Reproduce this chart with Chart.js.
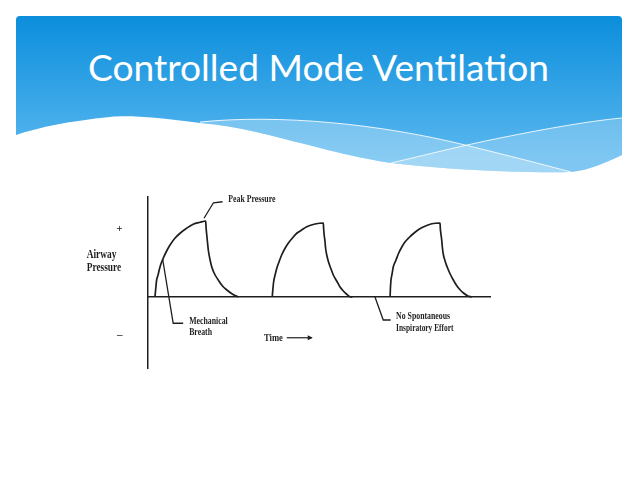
<!DOCTYPE html>
<html>
<head>
<meta charset="utf-8">
<title>Controlled Mode Ventilation</title>
<script src="https://cdn.jsdelivr.net/npm/chart.js@4.4.1/dist/chart.umd.min.js"></script>
<style>
  html, body { margin: 0; padding: 0; background: #fff; }
  #slide { position: relative; width: 638px; height: 479px; overflow: hidden; }
  #header { position: absolute; left: 0; top: 0; }
  #chart { position: absolute; left: 0; top: 0; }
</style>
</head>
<body>
<div id="slide">
  <svg id="header" width="638" height="180" viewBox="0 0 638 180">
    <defs>
      <linearGradient id="sky" x1="0" y1="16" x2="0" y2="160" gradientUnits="userSpaceOnUse">
        <stop offset="0" stop-color="#0b8edc"/>
        <stop offset="1" stop-color="#5bb8ef"/>
      </linearGradient>
    </defs>
    <!-- blue banner with the wavy lower edge -->
    <path d="M16,135 L16,20 Q16,16 20,16 L618,16 Q622,16 622,20 L622,155
             C605,163 590,170 571,172 C520,173 450,170 391,163
             C360,158 340,153 320,148 C270,136 240,126 200,123
             C160,118 130,115 110,117 C70,121 40,127 16,135 Z" fill="url(#sky)"/>
    <path d="M200,122 C280,114 380,124 465,145 C510,156 545,165 571,172
             C520,173 450,170 391,163 C360,158 340,153 320,148
             C270,136 240,126 200,123 Z" fill="#ffffff" fill-opacity="0.28"/>
    <path d="M391,163 C430,154 460,146 500,138 C550,128 590,121 622,118 L622,155
             C605,163 590,170 571,172 C520,173 450,170 391,163 Z" fill="#ffffff" fill-opacity="0.22"/>
    <path d="M200,122 C280,114 380,124 465,145 C510,156 545,165 571,172" fill="none" stroke="#ffffff" stroke-opacity="0.85" stroke-width="1"/>
    <path d="M391,163 C430,154 460,146 500,138 C550,128 590,121 622,118" fill="none" stroke="#ffffff" stroke-opacity="0.85" stroke-width="1"/>
    <text x="88" y="81" fill="#ffffff" font-family="Lato, 'Open Sans', sans-serif" font-size="37"
          textLength="461" lengthAdjust="spacingAndGlyphs">Controlled Mode Ventilation</text>
  </svg>
  <canvas id="chart" width="638" height="479"></canvas>
</div>
<script>
// airway pressure trace (time in s, pressure in cmH2O-ish units)
const breath1Time = [0.26, 0.29, 0.32, 0.37, 0.41, 0.47, 0.55, 0.67, 0.79, 0.96, 1.14, 1.37, 1.60, 1.84, 2.04,
  2.05, 2.07, 2.10, 2.13, 2.18, 2.25, 2.35, 2.48, 2.62, 2.78, 2.97, 3.18];
const breath1Pressure = [0, 3.5, 6.8, 8.8, 10.8, 13.2, 15.5, 18.4, 20.8, 23.5, 25.5, 27.5, 29.1, 29.9, 30.4,
  28.1, 25.5, 22.1, 18.8, 15.5, 12.1, 9.2, 6.8, 4.5, 2.8, 1.2, 0];

const breath2Time = [4.37, 4.39, 4.42, 4.47, 4.53, 4.61, 4.70, 4.82, 4.93, 5.07, 5.23, 5.40, 5.58, 5.87, 6.16,
  6.17, 6.19, 6.22, 6.24, 6.28, 6.34, 6.42, 6.51, 6.63, 6.74, 6.86, 6.98, 7.10, 7.18];
const breath2Pressure = [0, 2.8, 6.1, 8.8, 11.5, 14.1, 16.8, 19.5, 21.5, 23.5, 25.5, 26.8, 28.1, 29.2, 29.6,
  27.5, 24.8, 22.1, 19.5, 16.8, 14.1, 11.5, 8.8, 6.4, 4.1, 2.4, 1.1, 0.1, 0];

const breath3Time = [8.50, 8.51, 8.53, 8.57, 8.61, 8.70, 8.79, 8.91, 9.02, 9.16, 9.31, 9.49, 9.66, 9.96, 10.25,
  10.26, 10.28, 10.31, 10.33, 10.36, 10.42, 10.50, 10.60, 10.71, 10.83, 10.95, 11.07, 11.21, 11.36];
const breath3Pressure = [0, 3.3, 6.6, 9.3, 12.0, 14.6, 17.3, 20.0, 22.0, 23.7, 25.3, 26.9, 28.0, 29.3, 29.6,
  27.3, 25.3, 22.6, 20.0, 17.3, 14.6, 12.0, 9.3, 6.9, 4.6, 2.9, 1.6, 0.5, 0];

// leader lines from the callouts
const peakLeaderTime = [1.98, 2.31, 2.63];
const peakLeaderPressure = [31.5, 37.7, 38.1];
const breathLeaderTime = [0.53, 0.90, 1.25];
const breathLeaderPressure = [15.2, -10.5, -10.5];
const effortLeaderTime = [7.97, 8.26, 8.52];
const effortLeaderPressure = [0, -9.2, -9.2];

// y axis marks
const yTickValues = [27.2, -15.2];
const yTickLabels = ['+', '\u2013'];

// callout texts and where they sit (data units)
const noteTexts = ['Peak Pressure', 'Airway', 'Pressure', 'Mechanical', 'Breath', 'Time', 'No Spontaneous', 'Inspiratory Effort'];
const noteTime = [2.83, -2.13, -2.13, 1.46, 1.46, 4.08, 8.71, 8.71];
const noteValue = [39.1, 16.8, 11.5, -9.9, -14.3, -16.3, -7.9, -12.5];
const noteSizes = [10, 12, 12, 10, 10, 11, 10, 9.5];

// "Time --->" arrow
const timeArrowTime = [4.88, 5.79];
const timeArrowValue = -16.3;

const ink = '#1e1e1e';
const serif = "'Liberation Serif', 'DejaVu Serif', serif";

function toPoints(xs, ys) {
  return xs.map((t, i) => ({ x: t, y: ys[i] }));
}

function traceSet(xs, ys) {
  return {
    data: toPoints(xs, ys),
    borderColor: ink,
    borderWidth: 1.7,
    pointRadius: 0,
    cubicInterpolationMode: 'monotone',
    fill: false,
    clip: false,
  };
}

function leaderSet(xs, ys) {
  return {
    data: toPoints(xs, ys),
    borderColor: ink,
    borderWidth: 1.3,
    pointRadius: 0,
    tension: 0,
    fill: false,
    clip: false,
  };
}

const calloutPlugin = {
  id: 'callouts',
  afterDatasetsDraw(chart) {
    const { ctx, scales: { x, y } } = chart;
    ctx.save();
    ctx.fillStyle = ink;
    ctx.strokeStyle = ink;
    ctx.textBaseline = 'middle';
    ctx.textAlign = 'left';
    noteTexts.forEach((txt, i) => {
      ctx.save();
      ctx.translate(x.getPixelForValue(noteTime[i]), y.getPixelForValue(noteValue[i]));
      ctx.scale(0.78, 1);
      ctx.font = 'bold ' + noteSizes[i] + 'px ' + serif;
      ctx.fillText(txt, 0, 0);
      ctx.restore();
    });

    // arrow after "Time"
    const ax0 = x.getPixelForValue(timeArrowTime[0]);
    const ax1 = x.getPixelForValue(timeArrowTime[1]);
    const ay = y.getPixelForValue(timeArrowValue);
    ctx.lineWidth = 1.2;
    ctx.beginPath();
    ctx.moveTo(ax0, ay);
    ctx.lineTo(ax1 - 1, ay);
    ctx.stroke();
    ctx.beginPath();
    ctx.moveTo(ax1, ay);
    ctx.lineTo(ax1 - 5, ay - 2.5);
    ctx.lineTo(ax1 - 5, ay + 2.5);
    ctx.closePath();
    ctx.fill();
    ctx.restore();
  },
};

new Chart(document.getElementById('chart'), {
  type: 'line',
  data: {
    datasets: [
      traceSet(breath1Time, breath1Pressure),
      traceSet(breath2Time, breath2Pressure),
      traceSet(breath3Time, breath3Pressure),
      leaderSet(peakLeaderTime, peakLeaderPressure),
      leaderSet(breathLeaderTime, breathLeaderPressure),
      leaderSet(effortLeaderTime, effortLeaderPressure),
    ],
  },
  options: {
    responsive: false,
    animation: false,
    events: [],
    layout: { padding: { left: 107.5, right: 148, top: 197, bottom: 111 } },
    plugins: {
      legend: { display: false },
      tooltip: { enabled: false },
      title: { display: false },
    },
    scales: {
      x: {
        type: 'linear',
        position: { y: 0 },
        min: 0,
        max: 12,
        ticks: { display: false },
        grid: { display: false, drawTicks: false },
        border: { display: true, color: ink, width: 1.5 },
      },
      y: {
        type: 'linear',
        min: -28.4,
        max: 40,
        afterBuildTicks: (scale) => {
          scale.ticks = yTickValues.map((v) => ({ value: v }));
        },
        afterFit: (scale) => {
          scale.width = 40;
        },
        ticks: {
          padding: 25,
          color: ink,
          font: { family: serif, size: 11, weight: 'bold' },
          callback: (value) => yTickLabels[yTickValues.indexOf(value)],
        },
        grid: { display: false, drawTicks: false },
        border: { display: true, color: ink, width: 1.5 },
      },
    },
  },
  plugins: [calloutPlugin],
});
</script>
</body>
</html>
